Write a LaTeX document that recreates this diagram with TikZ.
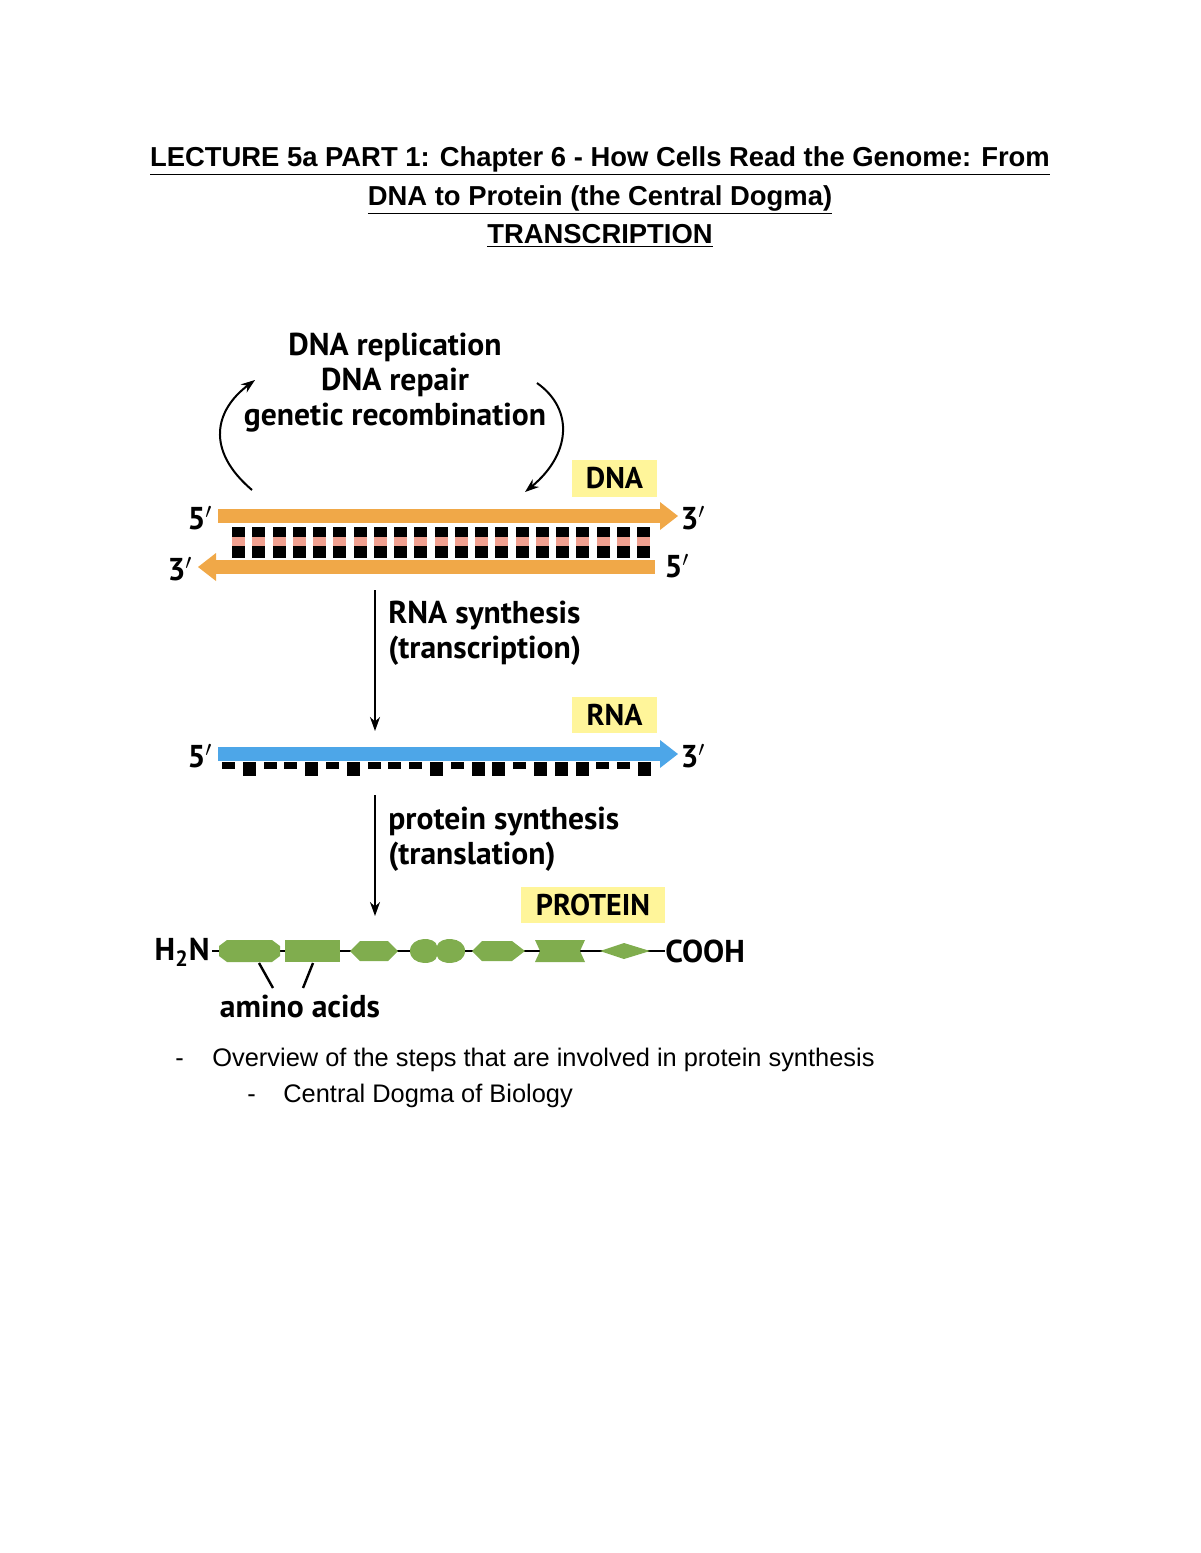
\documentclass[tikz,border=0pt]{standalone}
\usepackage{fontspec}
\setmainfont{Liberation Sans}
\newfontfamily\dfont{PT Sans}
\usetikzlibrary{arrows.meta}
\definecolor{dorange}{HTML}{F0A848}
\definecolor{rblue}{HTML}{4DA6E8}
\definecolor{aagreen}{HTML}{80AD4E}
\definecolor{ylw}{HTML}{FFF59A}
\definecolor{pinkbp}{HTML}{F0A090}
\begin{document}
\begin{tikzpicture}[x=0.5pt,y=-0.5pt,
  title/.style={font=\bfseries\fontsize{13.7}{15}\selectfont,anchor=base},
  dlab/.style={font=\dfont\bfseries\fontsize{15.8}{17.5}\selectfont,inner sep=0pt},
  ybox/.style={fill=ylw,inner sep=0pt,font=\dfont\bfseries\fontsize{15}{16}\selectfont},
  bul/.style={font=\fontsize{12.7}{14}\selectfont,anchor=base west,inner sep=0pt},
  flow/.style={-{Stealth[length=7pt,width=5pt]},line width=1pt},
  aa/.style={fill=aagreen}]
\useasboundingbox (0,0) rectangle (1200,1553);
% Title
\node[title] (t1) at (600,166) {\underline{LECTURE 5a PART 1: Chapter 6 - How Cells Read the Genome: From}};
\node[title] (t2) at (600,205) {\underline{DNA to Protein (the Central Dogma)}};
\node[title] (t3) at (600,243) {\underline{TRANSCRIPTION}};
% top texts
\node[dlab,align=center] (rep) at (395,383) {DNA replication\\DNA repair\\genetic recombination};
\coordinate (la) at (252,490); \coordinate (lb) at (255,380);
\coordinate (ra) at (537,383); \coordinate (rb) at (525,492);
\draw[flow] (la) .. controls (205,450) and (215,410) .. (lb);
\draw[flow] (ra) .. controls (575,410) and (570,455) .. (rb);
% DNA
\node[ybox,minimum width=42.5pt,minimum height=18.5pt] (dnabox) at (614.5,478.5) {DNA};
\fill[dorange] (218,509) rectangle (660,523);
\fill[dorange] (660,502) -- (678,516) -- (660,530) -- cycle;
\fill[dorange] (216,560) rectangle (655,574);
\fill[dorange] (216,553) -- (198,567) -- (216,581) -- cycle;
\foreach \i in {0,...,20} {
  \pgfmathsetmacro{\xx}{232+\i*20.25}
  \fill[black] (\xx,527) rectangle ++(13,31);
  \fill[pinkbp] (\xx,537) rectangle ++(13,9);
}
\node[dlab] (d5a) at (200,518) {5$'$};
\node[dlab] (d3a) at (693,518) {3$'$};
\node[dlab] (d3b) at (180,569) {3$'$};
\node[dlab] (d5b) at (677,566) {5$'$};
% arrow 1
\coordinate (a1s) at (375,590); \coordinate (a1e) at (375,731);
\draw[flow] (a1s) -- (a1e);
\node[dlab,align=left,anchor=west] (rs) at (388,633) {RNA synthesis\\(transcription)};
% RNA
\node[ybox,minimum width=42.5pt,minimum height=18pt] (rnabox) at (614.5,715) {RNA};
\fill[rblue] (218,747) rectangle (660,761);
\fill[rblue] (660,740) -- (678,754) -- (660,768) -- cycle;
\foreach \i/\h in {0/0,1/1,2/0,3/0,4/1,5/0,6/1,7/0,8/0,9/0,10/1,11/0,12/1,13/1,14/0,15/1,16/1,17/1,18/0,19/0,20/1} {
  \pgfmathsetmacro{\xx}{222+\i*20.8}
  \pgfmathsetmacro{\yy}{769+7*\h}
  \fill[black] (\xx,762) rectangle (\xx+13,\yy);
}
\node[dlab] (r5) at (200,756) {5$'$};
\node[dlab] (r3) at (693,756) {3$'$};
% arrow 2
\coordinate (a2s) at (375,795); \coordinate (a2e) at (375,916);
\draw[flow] (a2s) -- (a2e);
\node[dlab,align=left,anchor=west] (ps) at (388,839) {protein synthesis\\(translation)};
% protein
\node[ybox,minimum width=72pt,minimum height=18pt] (pbox) at (593,905) {PROTEIN};
\node[dlab,anchor=east] (h2n) at (210,952) {H\textsubscript{2}N};
\node[dlab,anchor=west] (cooh) at (665,951) {COOH};
\draw[line width=1.2pt] (h2n.east) ++(2,-1) -- (cooh.west);
\fill[aa] (227,940) -- (272,940) -- (280,946) -- (280,956) -- (272,962) -- (227,962) -- (219,956) -- (219,946) -- cycle;
\fill[aa] (285,940) rectangle (340,962);
\fill[aa] (350,951) -- (360,941) -- (388,941) -- (398,951) -- (388,961) -- (360,961) -- cycle;
\fill[aa] (410,951) .. controls (410,936) and (436,936) .. (437,946) .. controls (439,936) and (465,936) .. (465,951) .. controls (465,966) and (439,966) .. (437,956) .. controls (436,966) and (410,966) .. (410,951) -- cycle;
\fill[aa] (472,951) -- (482,941) -- (512,941) -- (525,951) -- (512,961) -- (482,961) -- cycle;
\fill[aa] (535,940) -- (585,940) -- (580,951) -- (585,962) -- (535,962) -- (540,951) -- cycle;
\fill[aa] (600,951) -- (624,943) -- (650,951) -- (624,959) -- cycle;
\coordinate (aa1) at (259,963); \coordinate (aa2) at (313,963);
\node[dlab] (aalab) at (300,1006) {amino acids};
\draw[line width=1.2pt] (aa1) -- (273,988);
\draw[line width=1.2pt] (aa2) -- (303,988);
% bullets
\node[bul] (b1d) at (175,1066) {-};
\node[bul] (b1) at (212,1066) {Overview of the steps that are involved in protein synthesis};
\node[bul] (b2d) at (247,1102) {-};
\node[bul] (b2) at (283,1102) {Central Dogma of Biology};
\end{tikzpicture}
\end{document}
